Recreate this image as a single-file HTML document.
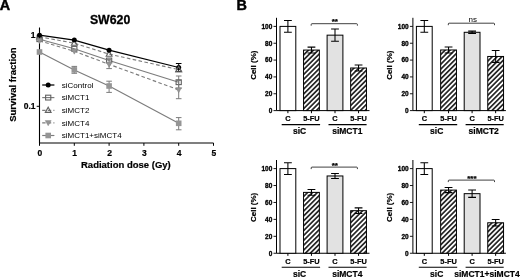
<!DOCTYPE html><html><head><meta charset="utf-8"><style>html,body{margin:0;padding:0;background:#fff}svg{display:block}text{font-family:"Liberation Sans", sans-serif;fill:#000}.b{font-weight:bold;stroke:#000;stroke-width:0.2px}</style></head><body>
<svg width="520" height="277" viewBox="0 0 520 277">
<defs><pattern id="h" width="3.45" height="3.45" patternUnits="userSpaceOnUse" patternTransform="rotate(-45)"><rect width="3.45" height="3.45" fill="#fff"/><line x1="0" y1="1.725" x2="3.45" y2="1.725" stroke="#000" stroke-width="1.45"/></pattern></defs>
<rect width="520" height="277" fill="#fff"/>
<text class="b" x="-0.3" y="10" font-size="14.4" style="stroke-width:0.45px">A</text>
<text class="b" x="236.6" y="10" font-size="14.4" style="stroke-width:0.45px">B</text>
<text class="b" x="89.9" y="24.2" font-size="12.3" style="stroke-width:0.3px">SW620</text>
<path d="M39.5 27.5V143H213.5" fill="none" stroke="#000" stroke-width="1.1"/>
<line x1="39.5" y1="143" x2="39.5" y2="145.8" stroke="#000" stroke-width="1"/>
<text class="b" x="39.9" y="155.8" font-size="8.5" text-anchor="middle">0</text>
<line x1="74.3" y1="143" x2="74.3" y2="145.8" stroke="#000" stroke-width="1"/>
<text class="b" x="74.7" y="155.8" font-size="8.5" text-anchor="middle">1</text>
<line x1="109.1" y1="143" x2="109.1" y2="145.8" stroke="#000" stroke-width="1"/>
<text class="b" x="109.5" y="155.8" font-size="8.5" text-anchor="middle">2</text>
<line x1="143.89999999999998" y1="143" x2="143.89999999999998" y2="145.8" stroke="#000" stroke-width="1"/>
<text class="b" x="144.29999999999998" y="155.8" font-size="8.5" text-anchor="middle">3</text>
<line x1="178.7" y1="143" x2="178.7" y2="145.8" stroke="#000" stroke-width="1"/>
<text class="b" x="179.1" y="155.8" font-size="8.5" text-anchor="middle">4</text>
<line x1="213.5" y1="143" x2="213.5" y2="145.8" stroke="#000" stroke-width="1"/>
<text class="b" x="213.9" y="155.8" font-size="8.5" text-anchor="middle">5</text>
<line x1="36.7" y1="35.3" x2="39.5" y2="35.3" stroke="#000" stroke-width="1"/>
<text class="b" x="35.5" y="38.4" font-size="8.5" text-anchor="end">1</text>
<line x1="36.7" y1="106.3" x2="39.5" y2="106.3" stroke="#000" stroke-width="1"/>
<text class="b" x="35.5" y="109.39999999999999" font-size="8.5" text-anchor="end">0.1</text>
<text class="b" x="81" y="168" font-size="9.5">Radiation dose (Gy)</text>
<text class="b" transform="translate(15.8,84.6) rotate(-90)" font-size="9.5" text-anchor="middle">Survival fraction</text>
<path d="M39.5 39.2L74.3 48.8L109.1 60.5L178.7 82.2" fill="none" stroke="#7c7c7c" stroke-width="1.15"/>
<path d="M178.7 76V88.5M175.89999999999998 76h5.6M175.89999999999998 88.5h5.6" stroke="#7c7c7c" stroke-width="1.0" fill="none"/>
<rect x="36.9" y="36.800000000000004" width="5.2" height="4.8" fill="none" stroke="#626262" stroke-width="1.1"/>
<rect x="71.7" y="46.4" width="5.2" height="4.8" fill="none" stroke="#626262" stroke-width="1.1"/>
<rect x="106.5" y="58.1" width="5.2" height="4.8" fill="none" stroke="#626262" stroke-width="1.1"/>
<rect x="176.1" y="79.8" width="5.2" height="4.8" fill="none" stroke="#626262" stroke-width="1.1"/>
<path d="M39.5 36.8L74.3 43.2L109.1 54.1L178.7 69.6" fill="none" stroke="#7c7c7c" stroke-width="1.15" stroke-dasharray="3.6 2.4"/>
<path d="M39.5 33.699999999999996L42.4 38.9H36.6Z" fill="none" stroke="#626262" stroke-width="1.1"/>
<path d="M74.3 40.1L77.2 45.300000000000004H71.39999999999999Z" fill="none" stroke="#626262" stroke-width="1.1"/>
<path d="M109.1 51.0L112.0 56.2H106.19999999999999Z" fill="none" stroke="#626262" stroke-width="1.1"/>
<path d="M178.7 66.5L181.6 71.69999999999999H175.79999999999998Z" fill="none" stroke="#626262" stroke-width="1.1"/>
<path d="M39.5 40.8L74.3 51.3L109.1 64.3L178.7 89.9" fill="none" stroke="#7c7c7c" stroke-width="1.15" stroke-dasharray="3.6 2.4"/>
<path d="M109.1 59.4V68.6M106.3 59.4h5.6M106.3 68.6h5.6" stroke="#7c7c7c" stroke-width="1.0" fill="none"/>
<path d="M178.7 80.5V98.7M175.89999999999998 80.5h5.6M175.89999999999998 98.7h5.6" stroke="#7c7c7c" stroke-width="1.0" fill="none"/>
<path d="M39.5 43.699999999999996L42.5 38.5H36.5Z" fill="#959595" stroke="#7c7c7c" stroke-width="0.4"/>
<path d="M74.3 54.199999999999996L77.3 49.0H71.3Z" fill="#959595" stroke="#7c7c7c" stroke-width="0.4"/>
<path d="M109.1 67.2L112.1 62.0H106.1Z" fill="#959595" stroke="#7c7c7c" stroke-width="0.4"/>
<path d="M178.7 92.80000000000001L181.7 87.60000000000001H175.7Z" fill="#959595" stroke="#7c7c7c" stroke-width="0.4"/>
<path d="M39.5 52L74.3 69.9L109.1 86L178.7 123.3" fill="none" stroke="#7c7c7c" stroke-width="1.15"/>
<path d="M74.3 66.4V73.3M71.5 66.4h5.6M71.5 73.3h5.6" stroke="#7c7c7c" stroke-width="1.0" fill="none"/>
<path d="M109.1 81.2V92.4M106.3 81.2h5.6M106.3 92.4h5.6" stroke="#7c7c7c" stroke-width="1.0" fill="none"/>
<path d="M178.7 117.6V129.8M175.89999999999998 117.6h5.6M175.89999999999998 129.8h5.6" stroke="#7c7c7c" stroke-width="1.0" fill="none"/>
<rect x="36.7" y="49.2" width="5.6" height="5.6" fill="#959595"/>
<rect x="71.5" y="67.10000000000001" width="5.6" height="5.6" fill="#959595"/>
<rect x="106.3" y="83.2" width="5.6" height="5.6" fill="#959595"/>
<rect x="175.89999999999998" y="120.5" width="5.6" height="5.6" fill="#959595"/>
<path d="M39.5 35.2L74.3 40.1L109.1 50.2L178.7 67.5" fill="none" stroke="#000" stroke-width="1.25"/>
<path d="M178.7 63.5V71.5M175.89999999999998 63.5h5.6M175.89999999999998 71.5h5.6" stroke="#000" stroke-width="1.0" fill="none"/>
<circle cx="39.5" cy="35.2" r="2.5" fill="#000"/>
<circle cx="74.3" cy="40.1" r="2.5" fill="#000"/>
<circle cx="109.1" cy="50.2" r="2.5" fill="#000"/>
<circle cx="178.7" cy="67.5" r="2.5" fill="#000"/>
<path d="M178.7 66.5L181.6 71.69999999999999H175.79999999999998Z" fill="none" stroke="#626262" stroke-width="1.1"/>
<line x1="42.2" y1="85" x2="54.4" y2="85" stroke="#000" stroke-width="1.25"/>
<circle cx="48.2" cy="85" r="2.5" fill="#000"/>
<text x="61.8" y="87.8" font-size="8">siControl</text>
<line x1="42.2" y1="97.6" x2="54.4" y2="97.6" stroke="#7c7c7c" stroke-width="1.15"/>
<rect x="45.6" y="95.19999999999999" width="5.2" height="4.8" fill="none" stroke="#626262" stroke-width="1.1"/>
<text x="61.8" y="100.39999999999999" font-size="8">siMCT1</text>
<line x1="42.2" y1="110.3" x2="54.4" y2="110.3" stroke="#7c7c7c" stroke-width="1.15" stroke-dasharray="3.4 2.2"/>
<path d="M48.2 107.2L51.1 112.39999999999999H45.300000000000004Z" fill="none" stroke="#626262" stroke-width="1.1"/>
<text x="61.8" y="113.1" font-size="8">siMCT2</text>
<line x1="42.2" y1="122.9" x2="54.4" y2="122.9" stroke="#7c7c7c" stroke-width="1.15" stroke-dasharray="3.4 2.2"/>
<path d="M48.2 125.80000000000001L51.2 120.60000000000001H45.2Z" fill="#959595" stroke="#7c7c7c" stroke-width="0.4"/>
<text x="61.8" y="125.7" font-size="8">siMCT4</text>
<line x1="42.2" y1="135.5" x2="54.4" y2="135.5" stroke="#7c7c7c" stroke-width="1.15"/>
<rect x="45.400000000000006" y="132.7" width="5.6" height="5.6" fill="#959595"/>
<text x="61.8" y="138.3" font-size="8">siMCT1+siMCT4</text>
<path d="M276.5 17.8V110.6H369.5" fill="none" stroke="#000" stroke-width="1"/>
<line x1="273.5" y1="110.6" x2="276.5" y2="110.6" stroke="#000" stroke-width="0.9"/>
<text class="b" x="272.3" y="112.94999999999999" font-size="6.5" text-anchor="end" style="stroke-width:0.3px">0</text>
<line x1="273.5" y1="93.75999999999999" x2="276.5" y2="93.75999999999999" stroke="#000" stroke-width="0.9"/>
<text class="b" x="272.3" y="96.10999999999999" font-size="6.5" text-anchor="end" style="stroke-width:0.3px">20</text>
<line x1="273.5" y1="76.92" x2="276.5" y2="76.92" stroke="#000" stroke-width="0.9"/>
<text class="b" x="272.3" y="79.27" font-size="6.5" text-anchor="end" style="stroke-width:0.3px">40</text>
<line x1="273.5" y1="60.080000000000005" x2="276.5" y2="60.080000000000005" stroke="#000" stroke-width="0.9"/>
<text class="b" x="272.3" y="62.43000000000001" font-size="6.5" text-anchor="end" style="stroke-width:0.3px">60</text>
<line x1="273.5" y1="43.24000000000001" x2="276.5" y2="43.24000000000001" stroke="#000" stroke-width="0.9"/>
<text class="b" x="272.3" y="45.59000000000001" font-size="6.5" text-anchor="end" style="stroke-width:0.3px">80</text>
<line x1="273.5" y1="26.400000000000006" x2="276.5" y2="26.400000000000006" stroke="#000" stroke-width="0.9"/>
<text class="b" x="272.3" y="28.750000000000007" font-size="6.5" text-anchor="end" style="stroke-width:0.3px">100</text>
<text class="b" transform="translate(256,65.2) rotate(-90)" font-size="8" text-anchor="middle">Cell (%)</text>
<rect x="280.0" y="26.400000000000006" width="15.8" height="84.19999999999999" fill="#fff" stroke="#000" stroke-width="1"/>
<path d="M287.9 20.506000000000007V32.294000000000004M284.0 20.506000000000007h7.8M284.0 32.294000000000004h7.8" stroke="#000" stroke-width="1.05" fill="none"/>
<line x1="287.9" y1="110.6" x2="287.9" y2="113.19999999999999" stroke="#000" stroke-width="1"/>
<text class="b" x="287.9" y="121" font-size="7.4" text-anchor="middle">C</text>
<rect x="303.55" y="50.0602" width="15.8" height="60.53979999999999" fill="url(#h)" stroke="#000" stroke-width="1"/>
<path d="M311.45 47.1132V53.007200000000005M307.55 47.1132h7.8M307.55 53.007200000000005h7.8" stroke="#000" stroke-width="1.05" fill="none"/>
<line x1="311.45" y1="110.6" x2="311.45" y2="113.19999999999999" stroke="#000" stroke-width="1"/>
<text class="b" x="311.45" y="121" font-size="7.4" text-anchor="middle">5-FU</text>
<rect x="327.1" y="35.15680000000002" width="15.8" height="75.44319999999998" fill="#e2e2e2" stroke="#000" stroke-width="1"/>
<path d="M335.0 29.094400000000018V41.219200000000015M331.1 29.094400000000018h7.8M331.1 41.219200000000015h7.8" stroke="#000" stroke-width="1.05" fill="none"/>
<line x1="335.0" y1="110.6" x2="335.0" y2="113.19999999999999" stroke="#000" stroke-width="1"/>
<text class="b" x="335.0" y="121" font-size="7.4" text-anchor="middle">C</text>
<rect x="350.65" y="67.9948" width="15.8" height="42.605199999999996" fill="url(#h)" stroke="#000" stroke-width="1"/>
<path d="M358.54999999999995 65.0478V70.9418M354.65 65.0478h7.8M354.65 70.9418h7.8" stroke="#000" stroke-width="1.05" fill="none"/>
<line x1="358.54999999999995" y1="110.6" x2="358.54999999999995" y2="113.19999999999999" stroke="#000" stroke-width="1"/>
<text class="b" x="358.54999999999995" y="121" font-size="7.4" text-anchor="middle">5-FU</text>
<line x1="281.7" y1="124.6" x2="320.1" y2="124.6" stroke="#000" stroke-width="1.1"/>
<line x1="328.5" y1="124.6" x2="366.6" y2="124.6" stroke="#000" stroke-width="1.1"/>
<text class="b" x="299.6" y="134.3" font-size="8.5" text-anchor="middle">siC</text>
<text class="b" x="347.3" y="134.3" font-size="8.5" text-anchor="middle">siMCT1</text>
<path d="M311.2 25.7v-1.2q0 -0.8 0.8 -0.8H356.6q0.8 0 0.8 0.8v1.2" fill="none" stroke="#000" stroke-width="0.75"/>
<text class="b" x="334.8" y="24.099999999999998" font-size="8" text-anchor="middle" style="stroke-width:0.25px">**</text>
<path d="M412.9 17.8V110.6H505.9" fill="none" stroke="#000" stroke-width="1"/>
<line x1="409.9" y1="110.6" x2="412.9" y2="110.6" stroke="#000" stroke-width="0.9"/>
<text class="b" x="408.7" y="112.94999999999999" font-size="6.5" text-anchor="end" style="stroke-width:0.3px">0</text>
<line x1="409.9" y1="93.75999999999999" x2="412.9" y2="93.75999999999999" stroke="#000" stroke-width="0.9"/>
<text class="b" x="408.7" y="96.10999999999999" font-size="6.5" text-anchor="end" style="stroke-width:0.3px">20</text>
<line x1="409.9" y1="76.92" x2="412.9" y2="76.92" stroke="#000" stroke-width="0.9"/>
<text class="b" x="408.7" y="79.27" font-size="6.5" text-anchor="end" style="stroke-width:0.3px">40</text>
<line x1="409.9" y1="60.080000000000005" x2="412.9" y2="60.080000000000005" stroke="#000" stroke-width="0.9"/>
<text class="b" x="408.7" y="62.43000000000001" font-size="6.5" text-anchor="end" style="stroke-width:0.3px">60</text>
<line x1="409.9" y1="43.24000000000001" x2="412.9" y2="43.24000000000001" stroke="#000" stroke-width="0.9"/>
<text class="b" x="408.7" y="45.59000000000001" font-size="6.5" text-anchor="end" style="stroke-width:0.3px">80</text>
<line x1="409.9" y1="26.400000000000006" x2="412.9" y2="26.400000000000006" stroke="#000" stroke-width="0.9"/>
<text class="b" x="408.7" y="28.750000000000007" font-size="6.5" text-anchor="end" style="stroke-width:0.3px">100</text>
<text class="b" transform="translate(392.4,65.2) rotate(-90)" font-size="8" text-anchor="middle">Cell (%)</text>
<rect x="416.4" y="26.400000000000006" width="15.8" height="84.19999999999999" fill="#fff" stroke="#000" stroke-width="1"/>
<path d="M424.29999999999995 20.506000000000007V32.294000000000004M420.4 20.506000000000007h7.8M420.4 32.294000000000004h7.8" stroke="#000" stroke-width="1.05" fill="none"/>
<line x1="424.29999999999995" y1="110.6" x2="424.29999999999995" y2="113.19999999999999" stroke="#000" stroke-width="1"/>
<text class="b" x="424.29999999999995" y="121" font-size="7.4" text-anchor="middle">C</text>
<rect x="440.65" y="49.976000000000006" width="15.8" height="60.62399999999999" fill="url(#h)" stroke="#000" stroke-width="1"/>
<path d="M448.54999999999995 47.029V52.92300000000001M444.65 47.029h7.8M444.65 52.92300000000001h7.8" stroke="#000" stroke-width="1.05" fill="none"/>
<line x1="448.54999999999995" y1="110.6" x2="448.54999999999995" y2="113.19999999999999" stroke="#000" stroke-width="1"/>
<text class="b" x="448.54999999999995" y="121" font-size="7.4" text-anchor="middle">5-FU</text>
<rect x="464.2" y="32.29400000000001" width="15.8" height="78.30599999999998" fill="#e2e2e2" stroke="#000" stroke-width="1"/>
<path d="M472.09999999999997 31.115200000000012V33.472800000000014M468.2 31.115200000000012h7.8M468.2 33.472800000000014h7.8" stroke="#000" stroke-width="1.05" fill="none"/>
<line x1="472.09999999999997" y1="110.6" x2="472.09999999999997" y2="113.19999999999999" stroke="#000" stroke-width="1"/>
<text class="b" x="472.09999999999997" y="121" font-size="7.4" text-anchor="middle">C</text>
<rect x="487.74999999999994" y="56.4594" width="15.8" height="54.14059999999999" fill="url(#h)" stroke="#000" stroke-width="1"/>
<path d="M495.6499999999999 50.565400000000004V62.3534M491.74999999999994 50.565400000000004h7.8M491.74999999999994 62.3534h7.8" stroke="#000" stroke-width="1.05" fill="none"/>
<line x1="495.6499999999999" y1="110.6" x2="495.6499999999999" y2="113.19999999999999" stroke="#000" stroke-width="1"/>
<text class="b" x="495.6499999999999" y="121" font-size="7.4" text-anchor="middle">5-FU</text>
<line x1="418.8" y1="124.6" x2="457.2" y2="124.6" stroke="#000" stroke-width="1.1"/>
<line x1="465.59999999999997" y1="124.6" x2="503.7" y2="124.6" stroke="#000" stroke-width="1.1"/>
<text class="b" x="436.7" y="134.3" font-size="8.5" text-anchor="middle">siC</text>
<text class="b" x="483.70000000000005" y="134.3" font-size="8.5" text-anchor="middle">siMCT2</text>
<path d="M448.3 25.2v-1.2q0 -0.8 0.8 -0.8H493.7q0.8 0 0.8 0.8v1.2" fill="none" stroke="#000" stroke-width="0.75"/>
<text x="472.70000000000005" y="21.9" font-size="8" text-anchor="middle">ns</text>
<path d="M276.5 160.0V253.24999999999997H369.5" fill="none" stroke="#000" stroke-width="1"/>
<line x1="273.5" y1="253.24999999999997" x2="276.5" y2="253.24999999999997" stroke="#000" stroke-width="0.9"/>
<text class="b" x="272.3" y="255.59999999999997" font-size="6.5" text-anchor="end" style="stroke-width:0.3px">0</text>
<line x1="273.5" y1="236.31999999999996" x2="276.5" y2="236.31999999999996" stroke="#000" stroke-width="0.9"/>
<text class="b" x="272.3" y="238.66999999999996" font-size="6.5" text-anchor="end" style="stroke-width:0.3px">20</text>
<line x1="273.5" y1="219.39" x2="276.5" y2="219.39" stroke="#000" stroke-width="0.9"/>
<text class="b" x="272.3" y="221.73999999999998" font-size="6.5" text-anchor="end" style="stroke-width:0.3px">40</text>
<line x1="273.5" y1="202.45999999999998" x2="276.5" y2="202.45999999999998" stroke="#000" stroke-width="0.9"/>
<text class="b" x="272.3" y="204.80999999999997" font-size="6.5" text-anchor="end" style="stroke-width:0.3px">60</text>
<line x1="273.5" y1="185.52999999999997" x2="276.5" y2="185.52999999999997" stroke="#000" stroke-width="0.9"/>
<text class="b" x="272.3" y="187.87999999999997" font-size="6.5" text-anchor="end" style="stroke-width:0.3px">80</text>
<line x1="273.5" y1="168.6" x2="276.5" y2="168.6" stroke="#000" stroke-width="0.9"/>
<text class="b" x="272.3" y="170.95" font-size="6.5" text-anchor="end" style="stroke-width:0.3px">100</text>
<text class="b" transform="translate(256,207.39999999999998) rotate(-90)" font-size="8" text-anchor="middle">Cell (%)</text>
<rect x="280.0" y="168.6" width="15.8" height="84.64999999999998" fill="#fff" stroke="#000" stroke-width="1"/>
<path d="M287.9 162.6745V174.5255M284.0 162.6745h7.8M284.0 174.5255h7.8" stroke="#000" stroke-width="1.05" fill="none"/>
<line x1="287.9" y1="253.24999999999997" x2="287.9" y2="255.84999999999997" stroke="#000" stroke-width="1"/>
<text class="b" x="287.9" y="263.65" font-size="7.4" text-anchor="middle">C</text>
<rect x="303.55" y="192.38664999999997" width="15.8" height="60.86335" fill="url(#h)" stroke="#000" stroke-width="1"/>
<path d="M311.45 189.59319999999997V195.18009999999998M307.55 189.59319999999997h7.8M307.55 195.18009999999998h7.8" stroke="#000" stroke-width="1.05" fill="none"/>
<line x1="311.45" y1="253.24999999999997" x2="311.45" y2="255.84999999999997" stroke="#000" stroke-width="1"/>
<text class="b" x="311.45" y="263.65" font-size="7.4" text-anchor="middle">5-FU</text>
<rect x="327.1" y="175.96454999999997" width="15.8" height="77.28545" fill="#e2e2e2" stroke="#000" stroke-width="1"/>
<path d="M335.0 173.42504999999997V178.50404999999998M331.1 173.42504999999997h7.8M331.1 178.50404999999998h7.8" stroke="#000" stroke-width="1.05" fill="none"/>
<line x1="335.0" y1="253.24999999999997" x2="335.0" y2="255.84999999999997" stroke="#000" stroke-width="1"/>
<text class="b" x="335.0" y="263.65" font-size="7.4" text-anchor="middle">C</text>
<rect x="350.65" y="210.67104999999998" width="15.8" height="42.57894999999999" fill="url(#h)" stroke="#000" stroke-width="1"/>
<path d="M358.54999999999995 207.87759999999997V213.4645M354.65 207.87759999999997h7.8M354.65 213.4645h7.8" stroke="#000" stroke-width="1.05" fill="none"/>
<line x1="358.54999999999995" y1="253.24999999999997" x2="358.54999999999995" y2="255.84999999999997" stroke="#000" stroke-width="1"/>
<text class="b" x="358.54999999999995" y="263.65" font-size="7.4" text-anchor="middle">5-FU</text>
<line x1="281.7" y1="267.24999999999994" x2="320.1" y2="267.24999999999994" stroke="#000" stroke-width="1.1"/>
<line x1="328.5" y1="267.24999999999994" x2="366.6" y2="267.24999999999994" stroke="#000" stroke-width="1.1"/>
<text class="b" x="299.6" y="276.95" font-size="8.5" text-anchor="middle">siC</text>
<text class="b" x="347.3" y="276.95" font-size="8.5" text-anchor="middle">siMCT4</text>
<path d="M311.2 169.1v-1.2q0 -0.8 0.8 -0.8H356.6q0.8 0 0.8 0.8v1.2" fill="none" stroke="#000" stroke-width="0.75"/>
<text class="b" x="334.8" y="167.5" font-size="8" text-anchor="middle" style="stroke-width:0.25px">**</text>
<path d="M412.9 160.0V253.24999999999997H505.9" fill="none" stroke="#000" stroke-width="1"/>
<line x1="409.9" y1="253.24999999999997" x2="412.9" y2="253.24999999999997" stroke="#000" stroke-width="0.9"/>
<text class="b" x="408.7" y="255.59999999999997" font-size="6.5" text-anchor="end" style="stroke-width:0.3px">0</text>
<line x1="409.9" y1="236.31999999999996" x2="412.9" y2="236.31999999999996" stroke="#000" stroke-width="0.9"/>
<text class="b" x="408.7" y="238.66999999999996" font-size="6.5" text-anchor="end" style="stroke-width:0.3px">20</text>
<line x1="409.9" y1="219.39" x2="412.9" y2="219.39" stroke="#000" stroke-width="0.9"/>
<text class="b" x="408.7" y="221.73999999999998" font-size="6.5" text-anchor="end" style="stroke-width:0.3px">40</text>
<line x1="409.9" y1="202.45999999999998" x2="412.9" y2="202.45999999999998" stroke="#000" stroke-width="0.9"/>
<text class="b" x="408.7" y="204.80999999999997" font-size="6.5" text-anchor="end" style="stroke-width:0.3px">60</text>
<line x1="409.9" y1="185.52999999999997" x2="412.9" y2="185.52999999999997" stroke="#000" stroke-width="0.9"/>
<text class="b" x="408.7" y="187.87999999999997" font-size="6.5" text-anchor="end" style="stroke-width:0.3px">80</text>
<line x1="409.9" y1="168.6" x2="412.9" y2="168.6" stroke="#000" stroke-width="0.9"/>
<text class="b" x="408.7" y="170.95" font-size="6.5" text-anchor="end" style="stroke-width:0.3px">100</text>
<text class="b" transform="translate(392.4,207.39999999999998) rotate(-90)" font-size="8" text-anchor="middle">Cell (%)</text>
<rect x="416.4" y="168.6" width="15.8" height="84.64999999999998" fill="#fff" stroke="#000" stroke-width="1"/>
<path d="M424.29999999999995 162.6745V174.5255M420.4 162.6745h7.8M420.4 174.5255h7.8" stroke="#000" stroke-width="1.05" fill="none"/>
<line x1="424.29999999999995" y1="253.24999999999997" x2="424.29999999999995" y2="255.84999999999997" stroke="#000" stroke-width="1"/>
<text class="b" x="424.29999999999995" y="263.65" font-size="7.4" text-anchor="middle">C</text>
<rect x="440.65" y="190.10109999999997" width="15.8" height="63.1489" fill="url(#h)" stroke="#000" stroke-width="1"/>
<path d="M448.54999999999995 187.56159999999997V192.64059999999998M444.65 187.56159999999997h7.8M444.65 192.64059999999998h7.8" stroke="#000" stroke-width="1.05" fill="none"/>
<line x1="448.54999999999995" y1="253.24999999999997" x2="448.54999999999995" y2="255.84999999999997" stroke="#000" stroke-width="1"/>
<text class="b" x="448.54999999999995" y="263.65" font-size="7.4" text-anchor="middle">5-FU</text>
<rect x="464.2" y="193.6564" width="15.8" height="59.59359999999998" fill="#e2e2e2" stroke="#000" stroke-width="1"/>
<path d="M472.09999999999997 189.93179999999998V197.381M468.2 189.93179999999998h7.8M468.2 197.381h7.8" stroke="#000" stroke-width="1.05" fill="none"/>
<line x1="472.09999999999997" y1="253.24999999999997" x2="472.09999999999997" y2="255.84999999999997" stroke="#000" stroke-width="1"/>
<text class="b" x="472.09999999999997" y="263.65" font-size="7.4" text-anchor="middle">C</text>
<rect x="487.74999999999994" y="222.77599999999998" width="15.8" height="30.47399999999999" fill="url(#h)" stroke="#000" stroke-width="1"/>
<path d="M495.6499999999999 219.55929999999998V225.99269999999999M491.74999999999994 219.55929999999998h7.8M491.74999999999994 225.99269999999999h7.8" stroke="#000" stroke-width="1.05" fill="none"/>
<line x1="495.6499999999999" y1="253.24999999999997" x2="495.6499999999999" y2="255.84999999999997" stroke="#000" stroke-width="1"/>
<text class="b" x="495.6499999999999" y="263.65" font-size="7.4" text-anchor="middle">5-FU</text>
<line x1="418.8" y1="267.24999999999994" x2="457.2" y2="267.24999999999994" stroke="#000" stroke-width="1.1"/>
<line x1="465.59999999999997" y1="267.24999999999994" x2="503.7" y2="267.24999999999994" stroke="#000" stroke-width="1.1"/>
<text class="b" x="436.7" y="276.95" font-size="8.5" text-anchor="middle">siC</text>
<text class="b" x="487.0" y="276.95" font-size="8.5" text-anchor="middle">siMCT1+siMCT4</text>
<path d="M448.3 182.1v-1.2q0 -0.8 0.8 -0.8H493.7q0.8 0 0.8 0.8v1.2" fill="none" stroke="#000" stroke-width="0.75"/>
<text class="b" x="471.90000000000003" y="180.5" font-size="8" text-anchor="middle" style="stroke-width:0.25px">***</text>
</svg></body></html>
